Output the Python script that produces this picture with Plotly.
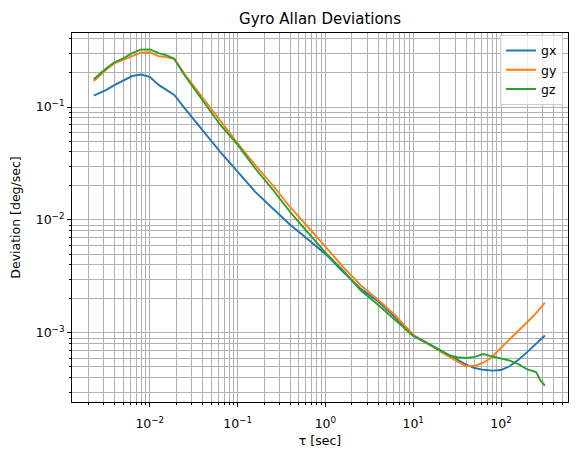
import plotly.graph_objs as go

# averaging times (sec)
tau = [0.0023, 0.0032, 0.004, 0.005, 0.0063, 0.0079, 0.01, 0.0126, 0.0158, 0.019,
       0.025, 0.04, 0.063, 0.1, 0.158, 0.25, 0.4, 0.63, 1.0, 1.58, 2.5, 4.0, 6.3,
       10, 15.8, 25, 31.6, 40, 50, 63, 79, 100, 126, 158, 200, 251, 282, 316]

# allan deviations (deg/sec)
gx = [0.126, 0.142, 0.157, 0.173, 0.188, 0.194, 0.185, 0.157, 0.139, 0.128,
      0.0973, 0.0625, 0.0403, 0.0268, 0.0178, 0.0127, 0.00903, 0.00675, 0.00501, 0.00349, 0.00248, 0.0019, 0.00137,
      0.00096, 0.00079, 6.4e-4, 5.8e-4, 5.25e-4, 4.9e-4, 4.72e-4, 4.64e-4, 4.7e-4, 5.1e-4, 5.8e-4, 6.8e-4, 8.1e-4, 8.8e-4, 9.5e-4]
gy = [0.17, 0.215, 0.245, 0.262, 0.285, 0.303, 0.305, 0.282, 0.275, 0.265,
      0.195, 0.121, 0.075, 0.0478, 0.0307, 0.0204, 0.0129, 0.00873, 0.0058, 0.00386, 0.00266, 0.00196, 0.00142,
      0.00096, 0.00077, 6.2e-4, 5.6e-4, 5.1e-4, 5.1e-4, 5.45e-4, 6.1e-4, 7.4e-4, 8.8e-4, 1.03e-3, 1.25e-3, 1.5e-3, 1.67e-3, 1.85e-3]
gz = [0.176, 0.22, 0.25, 0.27, 0.30, 0.322, 0.323, 0.30, 0.285, 0.268,
      0.19, 0.115, 0.07, 0.0465, 0.0287, 0.0187, 0.0117, 0.00778, 0.00514, 0.0036, 0.0024, 0.00177, 0.00129,
      0.00094, 0.00078, 6.4e-4, 6.1e-4, 6.0e-4, 6.15e-4, 6.5e-4, 6.2e-4, 5.9e-4, 5.7e-4, 5.3e-4, 4.75e-4, 4.5e-4, 3.8e-4, 3.42e-4]

x_ticks = [0.01, 0.1, 1, 10, 100]
x_labels = ["10<sup>−2</sup>", "10<sup>−1</sup>", "10<sup>0</sup>", "10<sup>1</sup>", "10<sup>2</sup>"]
y_ticks = [0.001, 0.01, 0.1]
y_labels = ["10<sup>−3</sup>", "10<sup>−2</sup>", "10<sup>−1</sup>"]

# minor ticks at 2..9 of every decade
minor_vals = [k * 10.0 ** e for e in range(-4, 4) for k in range(2, 10)]

fig = go.Figure()
fig.add_trace(go.Scatter(x=tau, y=gx, mode='lines', name='gx', line=dict(color='#1f77b4', width=1.9)))
fig.add_trace(go.Scatter(x=tau, y=gy, mode='lines', name='gy', line=dict(color='#ff7f0e', width=1.9)))
fig.add_trace(go.Scatter(x=tau, y=gz, mode='lines', name='gz', line=dict(color='#2ca02c', width=1.9)))

grid = '#b0b0b0'
axis_common = dict(
    type='log', showline=True, linecolor='black', linewidth=1, mirror=True,
    ticks='outside', ticklen=4, tickcolor='black', showgrid=True, gridcolor=grid, gridwidth=0.8,
    zeroline=False, automargin=False, tickfont=dict(size=12.5),
    minor=dict(tickmode='array', tickvals=minor_vals, showgrid=True, gridcolor=grid, gridwidth=0.8,
               ticks='outside', ticklen=2, tickcolor='black'),
)

fig.update_xaxes(axis_common, range=[-2.886, 2.763], tickvals=x_ticks, ticktext=x_labels,
                 ticklabelstandoff=6,
                 title=dict(text="τ [sec]", standoff=6, font=dict(size=12.5)))
fig.update_yaxes(axis_common, range=[-3.611, -0.345], tickvals=y_ticks, ticktext=y_labels,
                 title=dict(text="Deviation [deg/sec]", standoff=13, font=dict(size=12.5)))

# page body has an 8px margin, so the plot box is pulled up/left by that much
fig.update_layout(
    width=579, height=454,
    margin=dict(l=64, r=19, t=25, b=60),
    paper_bgcolor='white', plot_bgcolor='white',
    font=dict(family='DejaVu Sans', size=12.5, color='black'),
    title=dict(text="Gyro Allan Deviations", x=0.5, xref='paper', xanchor='center',
               y=1, yref='paper', yanchor='bottom', pad=dict(b=9), font=dict(size=15)),
    legend=dict(x=0.99, y=0.995, xanchor='right', yanchor='top', bgcolor='rgba(255,255,255,0.8)',
                bordercolor='#d0d0d0', borderwidth=1, font=dict(size=12.5)),
)

fig.write_html("out.html")
